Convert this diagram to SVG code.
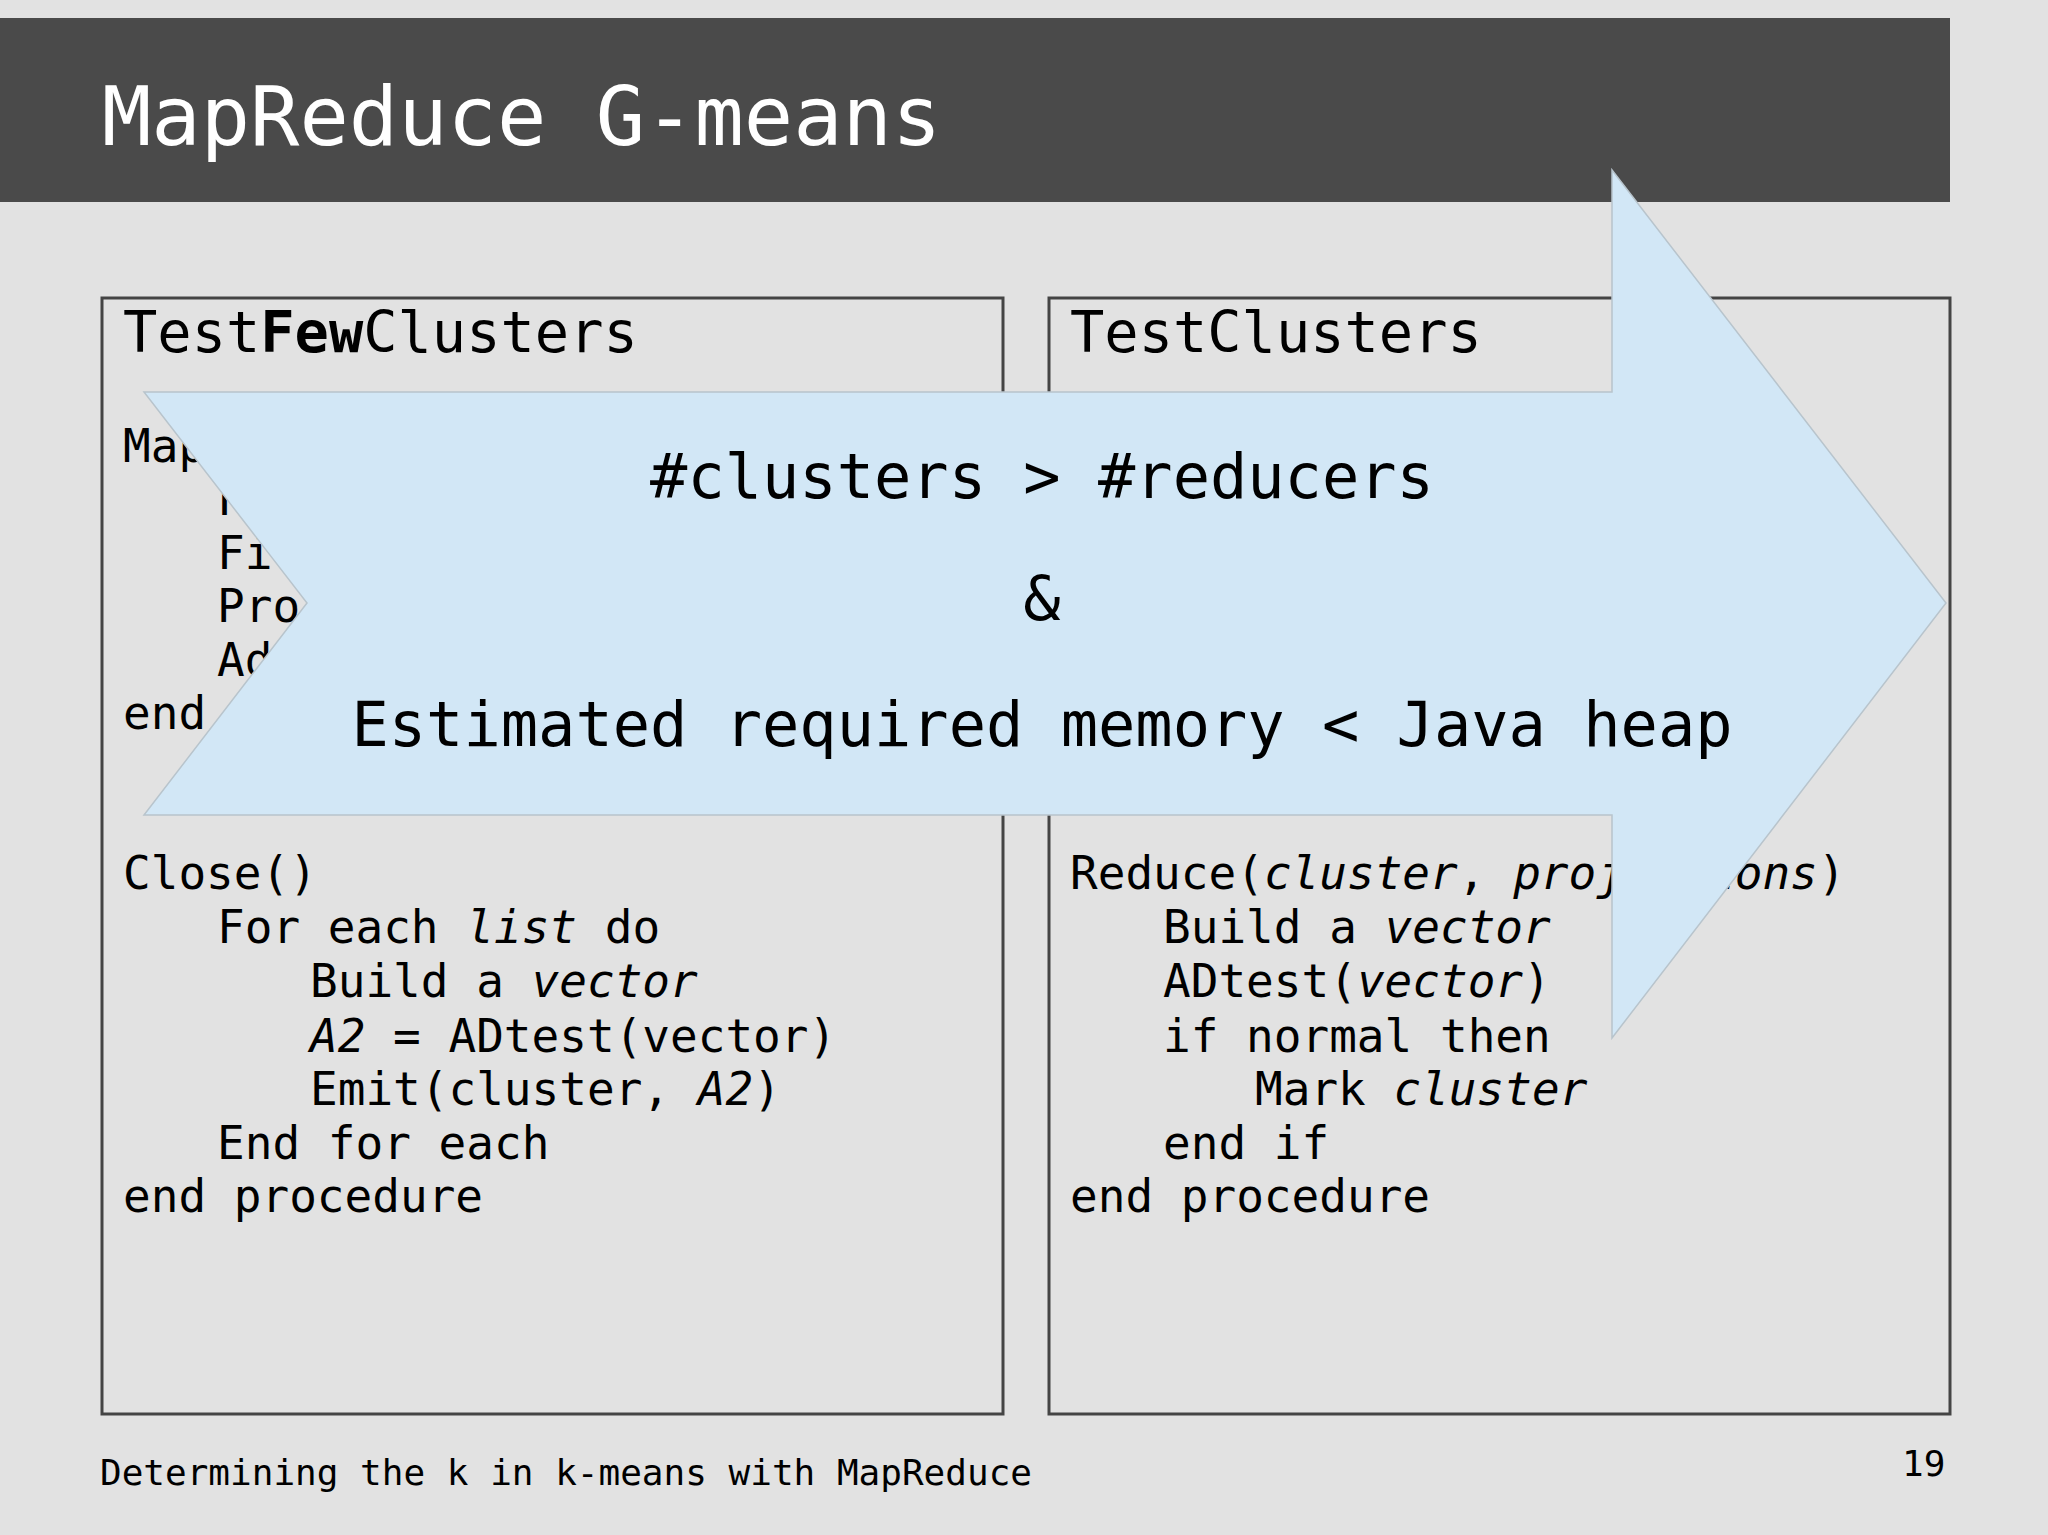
<svg xmlns="http://www.w3.org/2000/svg" width="2048" height="1535" viewBox="0 0 2048 1535">
<style>
.m{font-family:"DejaVu Sans Mono","Liberation Mono",monospace;fill:#000}
.c{font-size:46px}
.box{fill:none;stroke:#444;stroke-width:3}
</style>
<rect width="2048" height="1535" fill="#e2e2e2"/>
<rect x="0" y="18" width="1950" height="184" fill="#4a4a4a"/>
<text class="m" x="102" y="145" font-size="82" style="fill:#fff">MapReduce G-means</text>
<g id="left">
<rect class="box" x="102" y="298" width="901" height="1116"/>
<text class="m" x="123" y="352" font-size="57">Test<tspan font-weight="bold">Few</tspan>Clusters</text>
<text class="m c" x="123" y="462">Map</text>
<text class="m c" x="217" y="515">F</text>
<text class="m c" x="217" y="569">Fi</text>
<text class="m c" x="217" y="622">Pro</text>
<text class="m c" x="217" y="676">Ad</text>
<text class="m c" x="123" y="729">end</text>
<text class="m c" x="123" y="889">Close()</text>
<text class="m c" x="217" y="943">For each <tspan font-style="italic">list</tspan> do</text>
<text class="m c" x="310" y="997">Build a <tspan font-style="italic">vector</tspan></text>
<text class="m c" x="310" y="1052"><tspan font-style="italic">A2</tspan> = ADtest(vector)</text>
<text class="m c" x="310" y="1105">Emit(cluster, <tspan font-style="italic">A2</tspan>)</text>
<text class="m c" x="217" y="1159">End for each</text>
<text class="m c" x="123" y="1212">end procedure</text>
</g>
<g id="right">
<rect class="box" x="1049" y="298" width="901" height="1116"/>
<text class="m" x="1070" y="352" font-size="57">TestClusters</text>
<text class="m c" x="1070" y="889">Reduce(<tspan font-style="italic">cluster</tspan>, <tspan font-style="italic">projections</tspan>)</text>
<text class="m c" x="1163" y="943">Build a <tspan font-style="italic">vector</tspan></text>
<text class="m c" x="1163" y="997">ADtest(<tspan font-style="italic">vector</tspan>)</text>
<text class="m c" x="1163" y="1052">if normal then</text>
<text class="m c" x="1255" y="1105">Mark <tspan font-style="italic">cluster</tspan></text>
<text class="m c" x="1163" y="1159">end if</text>
<text class="m c" x="1070" y="1212">end procedure</text>
</g>
<g id="arrow">
<polygon points="144,392 1612,392 1612,170 1946,603 1612,1038 1612,815 144,815 307,603" fill="#d2e7f6" stroke="#b8c4cc" stroke-width="1.5"/>
<text class="m" x="1042" y="498" font-size="62" text-anchor="middle">#clusters &gt; #reducers</text>
<text class="m" x="1042" y="620" font-size="62" text-anchor="middle">&amp;</text>
<text class="m" x="1042" y="746" font-size="62" text-anchor="middle">Estimated required memory &lt; Java heap</text>
</g>
<g id="connectors"/>
<text class="m" x="100" y="1485" font-size="36">Determining the k in k-means with MapReduce</text>
<text class="m" x="1902" y="1476" font-size="36">19</text>
</svg>
